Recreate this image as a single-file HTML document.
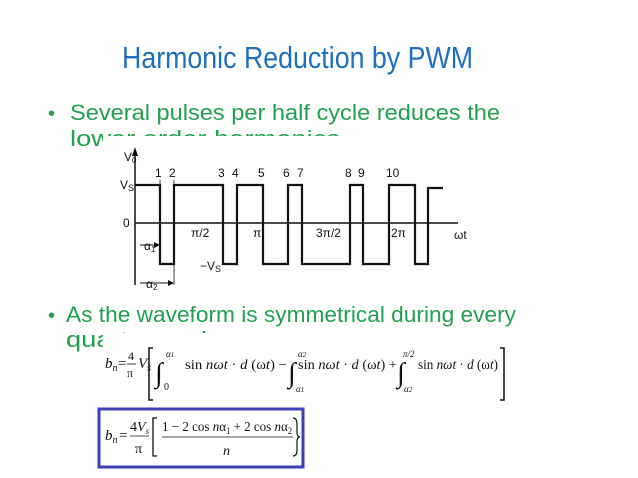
<!DOCTYPE html>
<html><head><meta charset="utf-8"><style>
html,body{margin:0;padding:0;background:#fff;}
svg{display:block;}
.m{font-family:"Liberation Serif",serif;fill:#111;}
.w{font-family:"Liberation Sans",sans-serif;fill:#111;font-size:12px;}
</style></head><body>
<svg width="638" height="478" viewBox="0 0 638 478" xmlns="http://www.w3.org/2000/svg">
<rect width="638" height="478" fill="#fff"/>
<text x="122" y="68" font-family="Liberation Sans, sans-serif" font-size="31" fill="#1f6fbf" textLength="351" lengthAdjust="spacingAndGlyphs">Harmonic Reduction by PWM</text>
<text x="48" y="120" font-family="Liberation Sans, sans-serif" font-size="20" fill="#22a04e">•</text>
<text x="70" y="120" font-family="Liberation Sans, sans-serif" font-size="22" fill="#22a04e" textLength="430" lengthAdjust="spacingAndGlyphs">Several pulses per half cycle reduces the</text>
<text x="70" y="146" font-family="Liberation Sans, sans-serif" font-size="22" fill="#22a04e" textLength="270" lengthAdjust="spacingAndGlyphs">lower order harmonics</text>
<rect x="103" y="136" width="365" height="164" fill="#fff"/>
<text x="48" y="322" font-family="Liberation Sans, sans-serif" font-size="20" fill="#22a04e">•</text>
<text x="66" y="322" font-family="Liberation Sans, sans-serif" font-size="22" fill="#22a04e" textLength="450" lengthAdjust="spacingAndGlyphs">As the waveform is symmetrical during every</text>
<text x="66" y="347" font-family="Liberation Sans, sans-serif" font-size="22" fill="#22a04e" textLength="200" lengthAdjust="spacingAndGlyphs">quarter cycle, so</text>
<rect x="103" y="333" width="420" height="30" fill="#fff"/>

<!-- axes -->
<g stroke="#111" fill="none">
<line x1="135" y1="153" x2="135" y2="285" stroke-width="1.5"/>
<line x1="135" y1="223" x2="458" y2="223" stroke-width="1.5"/>
<polyline stroke-width="2.2" points="135,185 160,185 160,264 174,264 174,185 223,185 223,264 237,264 237,185 263,185 263,264 288,264 288,185 302,185 302,264 350,264 350,185 363,185 363,264 389,264 389,185 415,185 415,264 428,264 428,188 443,188"/>
<line x1="160" y1="180" x2="160" y2="185" stroke-width="0.8"/>
<line x1="174" y1="180" x2="174" y2="185" stroke-width="0.8"/>
<line x1="174" y1="264" x2="174" y2="285" stroke-width="0.8"/>
<line x1="140" y1="245" x2="158" y2="245" stroke-width="1"/>
<line x1="140" y1="283" x2="172" y2="283" stroke-width="1"/>
</g>
<polygon points="135,147 132,156 138,156" fill="#111"/>
<polygon points="160,245 154,242 154,248" fill="#111"/>
<polygon points="174,283 168,280 168,286" fill="#111"/>
<text class="w" x="124" y="161" font-size="11">V<tspan font-size="8" dy="2">0</tspan></text>
<text class="w" x="120" y="189">V<tspan font-size="9" dy="2">S</tspan></text>
<text class="w" x="123" y="227">0</text>
<text class="w" x="155" y="177">1</text>
<text class="w" x="169" y="177">2</text>
<text class="w" x="218" y="177">3</text>
<text class="w" x="232" y="177">4</text>
<text class="w" x="258" y="177">5</text>
<text class="w" x="283" y="177">6</text>
<text class="w" x="297" y="177">7</text>
<text class="w" x="345" y="177">8</text>
<text class="w" x="358" y="177">9</text>
<text class="w" x="386" y="177">10</text>
<text class="w" x="191" y="237" font-size="10">π/2</text>
<text class="w" x="253" y="237" font-size="10">π</text>
<text class="w" x="316" y="237" font-size="10">3π/2</text>
<text class="w" x="391" y="237" font-size="10">2π</text>
<text class="w" x="454" y="239" font-size="13">ωt</text>
<text class="w" x="200" y="270">−V<tspan font-size="9" dy="2">S</tspan></text>
<text class="w" x="144" y="250" font-size="11">α<tspan font-size="8" dy="2">1</tspan></text>
<text class="w" x="146" y="288" font-size="11">α<tspan font-size="8" dy="2">2</tspan></text>

<!-- equation 1 -->
<g class="m">
<text x="105" y="368" font-size="15" font-style="italic">b<tspan font-size="10" dy="3">n</tspan></text>
<text x="118" y="368" font-size="15">=</text>
<text x="128" y="360" font-size="12">4</text>
<line x1="127" y1="364" x2="136" y2="364" stroke="#111" stroke-width="0.8"/>
<text x="127" y="377" font-size="12">π</text>
<text x="138" y="368" font-size="15" font-style="italic">V<tspan font-size="10" dy="3">s</tspan></text>
<path d="M153,348 h-4 v52 h4" fill="none" stroke="#111" stroke-width="1.5"/>
<text x="155" y="382" font-size="28">∫</text>
<text x="166" y="357" font-size="9" font-style="italic">α<tspan font-size="7">1</tspan></text>
<text x="164" y="390" font-size="10">0</text>
<text x="185" y="369" font-size="14" textLength="102" lengthAdjust="spacingAndGlyphs">sin <tspan font-style="italic">nωt</tspan> · <tspan font-style="italic">d</tspan> (ω<tspan font-style="italic">t</tspan>) −</text>
<text x="288" y="382" font-size="28">∫</text>
<text x="298" y="357" font-size="9" font-style="italic">α<tspan font-size="7">2</tspan></text>
<text x="296" y="392" font-size="9" font-style="italic">α<tspan font-size="7">1</tspan></text>
<text x="298" y="369" font-size="14" textLength="99" lengthAdjust="spacingAndGlyphs">sin <tspan font-style="italic">nωt</tspan> · <tspan font-style="italic">d</tspan> (ω<tspan font-style="italic">t</tspan>) +</text>
<text x="397" y="382" font-size="28">∫</text>
<text x="403" y="357" font-size="9" font-style="italic">π/2</text>
<text x="404" y="392" font-size="9" font-style="italic">α<tspan font-size="7">2</tspan></text>
<text x="418" y="369" font-size="14" textLength="80" lengthAdjust="spacingAndGlyphs">sin <tspan font-style="italic">nωt</tspan> · <tspan font-style="italic">d</tspan> (ω<tspan font-style="italic">t</tspan>)</text>
<path d="M500,348 h4 v52 h-4" fill="none" stroke="#111" stroke-width="1.5"/>
</g>

<!-- boxed equation -->
<rect x="99" y="409" width="204" height="58" fill="none" stroke="#3c3fae" stroke-width="3"/>
<g class="m">
<text x="105" y="440" font-size="15" font-style="italic">b<tspan font-size="10" dy="3">n</tspan></text>
<text x="119" y="440" font-size="15">=</text>
<text x="130" y="431" font-size="14">4<tspan font-style="italic">V</tspan><tspan font-size="9" dy="3" font-style="italic">s</tspan></text>
<line x1="130" y1="436" x2="149" y2="436" stroke="#111" stroke-width="0.8"/>
<text x="135" y="453" font-size="14">π</text>
<path d="M157,418 h-4 v38 h4" fill="none" stroke="#111" stroke-width="1.3"/>
<text x="162" y="431" font-size="14" textLength="130" lengthAdjust="spacingAndGlyphs">1 − 2 cos <tspan font-style="italic">n</tspan>α<tspan font-size="9" dy="3">1</tspan><tspan dy="-3"> + 2 cos </tspan><tspan font-style="italic">n</tspan>α<tspan font-size="9" dy="3">2</tspan></text>
<line x1="162" y1="437" x2="293" y2="437" stroke="#111" stroke-width="0.8"/>
<text x="223" y="455" font-size="14" font-style="italic">n</text>
<path d="M293,418 q4,0 4,6 v8 q0,5 3,5 q-3,0 -3,5 v8 q0,6 -4,6" fill="none" stroke="#111" stroke-width="1.2"/>
</g>
</svg>
</body></html>
